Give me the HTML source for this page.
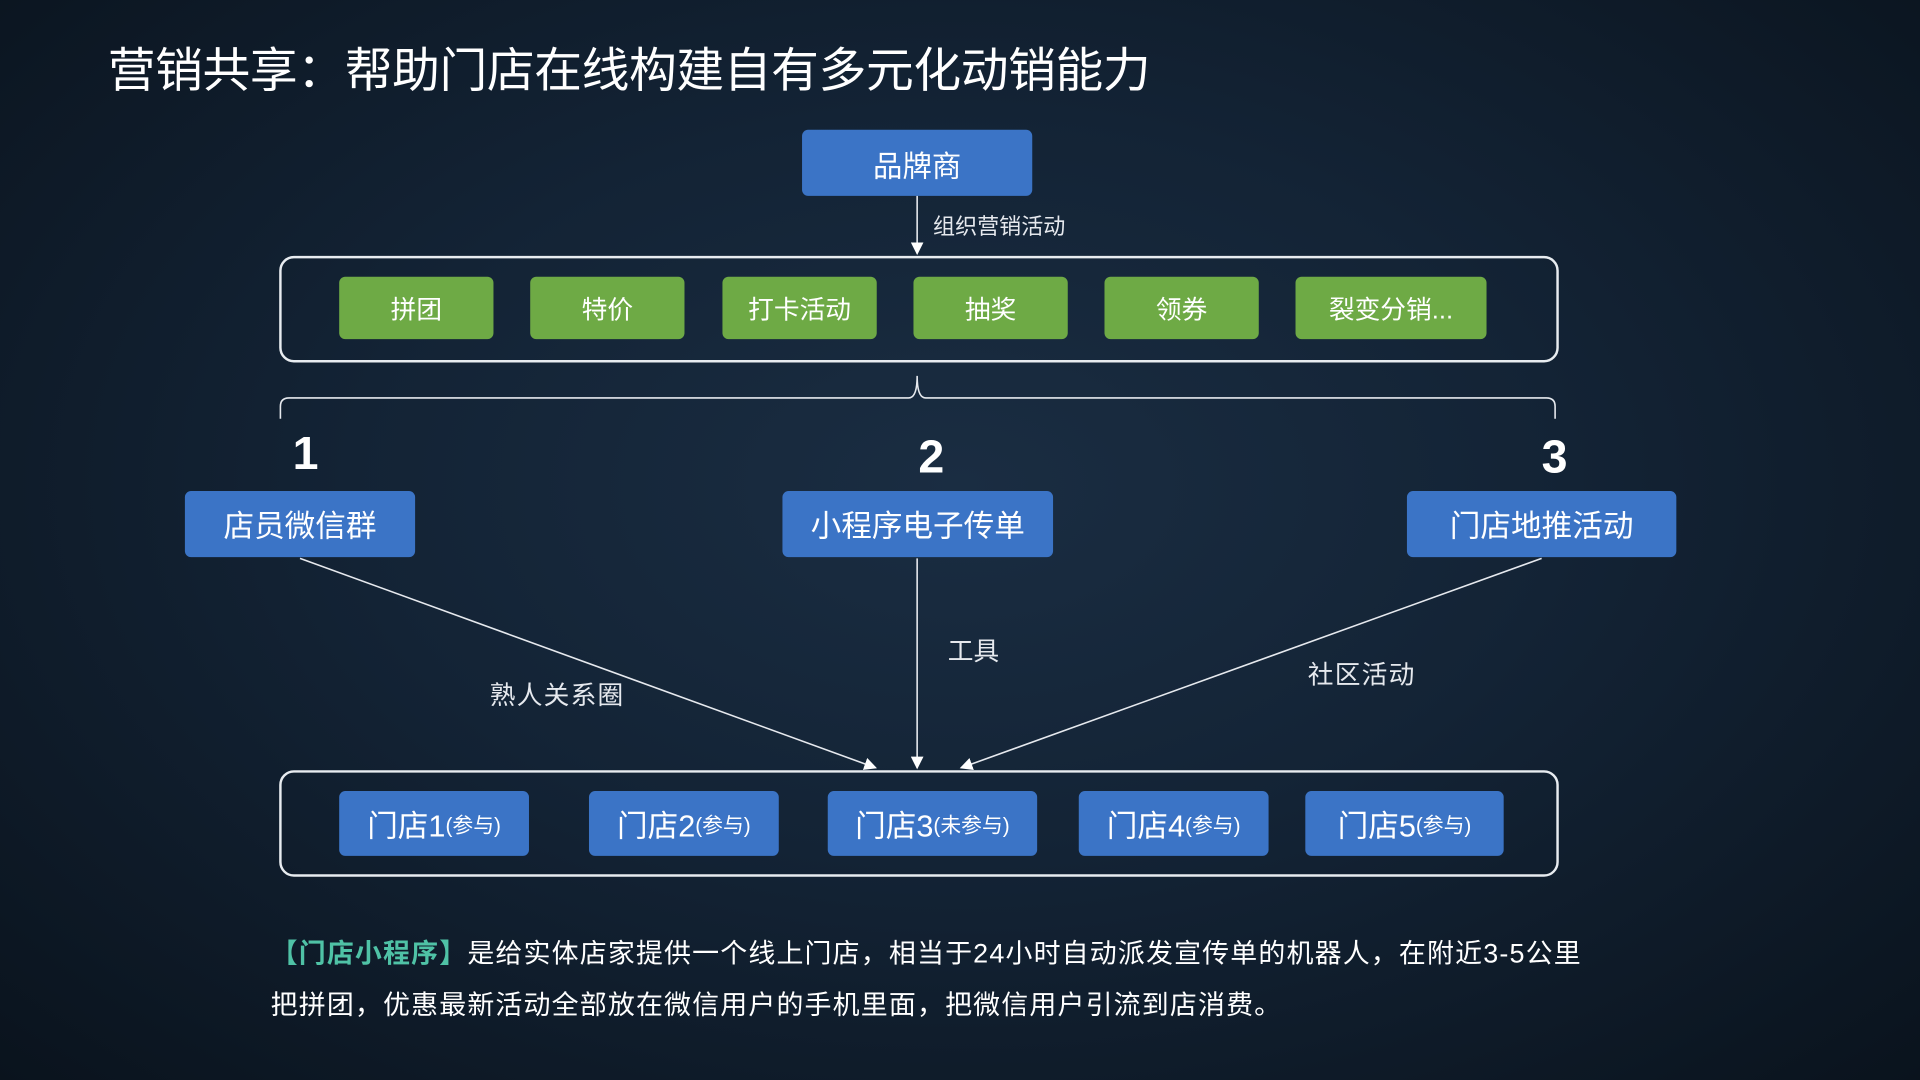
<!DOCTYPE html>
<html><head><meta charset="utf-8"><style>
html,body{margin:0;padding:0;width:1920px;height:1080px;overflow:hidden;background:#0e1b28;}
#s{position:absolute;left:0;top:0;width:1568px;height:882px;transform:scale(1.22449);transform-origin:0 0;
background:radial-gradient(ellipse at 50% 45%,#1a2d42 0%,#132335 45%,#0a131d 100%);
font-family:"Liberation Sans","Noto Sans CJK SC",sans-serif;color:#fff;}
.b{position:absolute;display:flex;align-items:center;justify-content:center;border-radius:5px;color:#fff;}
.bl{background:#3b74c6;font-size:24px;}
.g{background:#6eaa45;font-size:21px;top:226px;height:51px;}
.st{background:#3b74c6;font-size:25px;top:646px;height:53px;}
.st small{font-size:17px;}
.t{position:absolute;white-space:nowrap;}
.n{position:absolute;font-size:38px;font-weight:bold;}
.ob{position:absolute;left:228px;width:1041px;border:2px solid #e8ecf0;border-radius:12px;}
</style></head><body><div id="s">
<div class="t" style="left:88px;top:27px;font-size:39px;letter-spacing:-0.3px;">营销共享：帮助门店在线构建自有多元化动销能力</div>
<div class="b bl" style="left:655px;top:106px;width:188px;height:54px;">品牌商</div>
<div class="t" style="left:762px;top:171px;font-size:18px;color:#e6e9ee;">组织营销活动</div>
<div class="ob" style="top:209px;height:83px;"></div>
<div class="b g" style="left:277px;width:126px;">拼团</div>
<div class="b g" style="left:433px;width:126px;">特价</div>
<div class="b g" style="left:590px;width:126px;">打卡活动</div>
<div class="b g" style="left:746px;width:126px;">抽奖</div>
<div class="b g" style="left:902px;width:126px;">领券</div>
<div class="b g" style="left:1058px;width:156px;">裂变分销...</div>
<svg style="position:absolute;left:0;top:0" width="1568" height="882">
<defs><marker id="a" markerWidth="8" markerHeight="8" refX="7" refY="4" orient="auto"><path d="M0,0L8,4L0,8z" fill="#fff"/></marker></defs>
<g stroke="#e6e9ee" stroke-width="1.3" fill="none">
<line x1="749" y1="160" x2="749" y2="207" marker-end="url(#a)"/>
<path d="M229,342V332Q229,325 236,325H742Q749,325 749,307Q749,325 756,325H1263Q1270,325 1270,332V342"/>
<line x1="245" y1="456" x2="715" y2="627" marker-end="url(#a)"/>
<line x1="749" y1="456" x2="749" y2="627" marker-end="url(#a)"/>
<line x1="1259" y1="456" x2="785" y2="627" marker-end="url(#a)"/>
</g></svg>
<div class="n" style="left:239px;top:350px;">1</div>
<div class="n" style="left:750px;top:353px;">2</div>
<div class="n" style="left:1259px;top:353px;">3</div>
<div class="b bl" style="left:151px;top:401px;width:188px;height:54px;font-size:25px;">店员微信群</div>
<div class="b bl" style="left:639px;top:401px;width:221px;height:54px;font-size:25px;">小程序电子传单</div>
<div class="b bl" style="left:1149px;top:401px;width:220px;height:54px;font-size:25px;">门店地推活动</div>
<div class="t" style="left:400px;top:552px;font-size:21px;color:#e6e9ee;letter-spacing:1px;">熟人关系圈</div>
<div class="t" style="left:774px;top:516px;font-size:21px;color:#e6e9ee;">工具</div>
<div class="t" style="left:1068px;top:535px;font-size:21px;color:#e6e9ee;letter-spacing:1px;">社区活动</div>
<div class="ob" style="top:629px;height:83px;"></div>
<div class="b st" style="left:277px;width:155px;">门店1<small>(参与)</small></div>
<div class="b st" style="left:481px;width:155px;">门店2<small>(参与)</small></div>
<div class="b st" style="left:676px;width:171px;">门店3<small>(未参与)</small></div>
<div class="b st" style="left:881px;width:155px;">门店4<small>(参与)</small></div>
<div class="b st" style="left:1066px;width:162px;">门店5<small>(参与)</small></div>
<div class="t" style="left:221px;top:761px;font-size:22px;letter-spacing:0.95px;"><span style="color:#4fc2a6;font-weight:bold;">【门店小程序】</span>是给实体店家提供一个线上门店，相当于24小时自动派发宣传单的机器人，在附近3-5公里</div>
<div class="t" style="left:221px;top:803px;font-size:22px;letter-spacing:0.95px;">把拼团，优惠最新活动全部放在微信用户的手机里面，把微信用户引流到店消费。</div>
</div></body></html>
